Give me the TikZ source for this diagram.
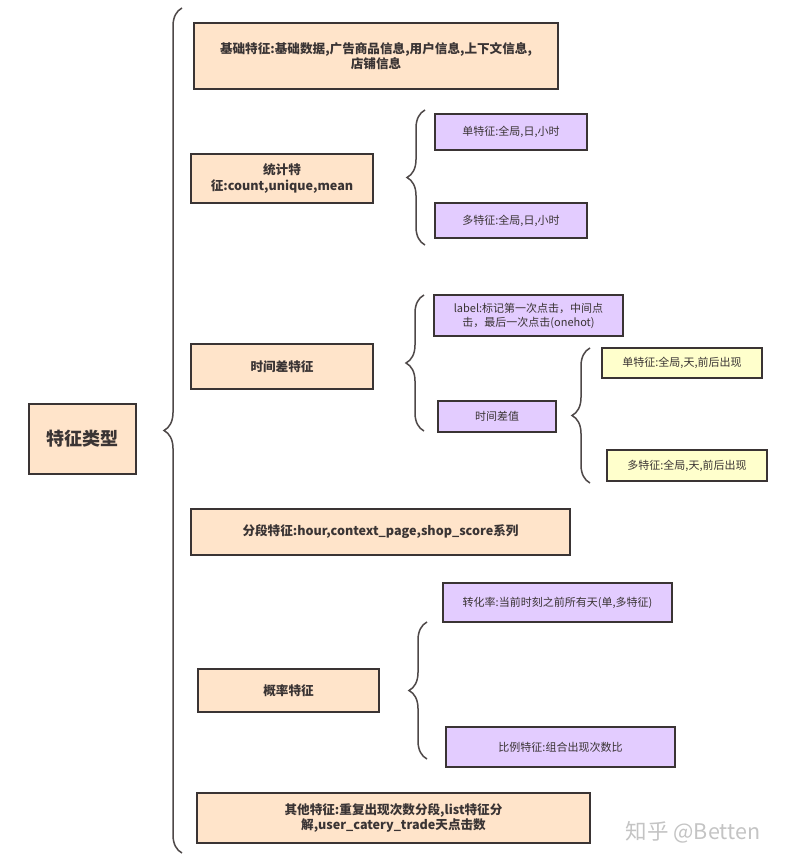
\documentclass[tikz,border=0pt]{standalone}
\usepackage{fontspec}
\setmainfont{Noto Sans CJK SC}
\usepackage{tikz}
\usetikzlibrary{positioning,decorations.pathreplacing}
\definecolor{ink}     {HTML}{3A3434}
\definecolor{peach}   {HTML}{FFE4CA}
\definecolor{lilac}   {HTML}{E3CCFF}
\definecolor{lemon}   {HTML}{FFFFCC}
\definecolor{softink} {HTML}{C4C4C4}
\tikzset{
  % --- boxes
  mod/.style  = {rectangle, draw=ink, line width=1.6pt, align=center,
                 inner sep=2pt, text=ink},
  core/.style = {mod, fill=peach, font=\bfseries\fontsize{12.6}{15.5}\selectfont},
  leaf/.style = {mod, fill=lilac, font=\fontsize{11}{14}\selectfont},
  sub/.style  = {mod, fill=lemon, font=\fontsize{11}{14}\selectfont},
  wm/.style   = {text=softink, font=\fontsize{21.5}{25}\selectfont},
  % --- braces
  brc/.style  = {draw=ink!90, line width=1.5pt, decorate,
                 decoration={brace, amplitude=18pt}},
}
\begin{document}
\begin{tikzpicture}[x=1pt,y=-1pt]
  \path[fill=white] (0,0) rectangle (793,867);
  \useasboundingbox (0,0) rectangle (793,867);
  % root
  \node[core, minimum width=107pt, minimum height=70pt,
        font=\bfseries\fontsize{18}{21}\selectfont] (root) at (82.5,439) {特征类型};
  % first level
  \node[core, minimum width=364pt, minimum height=66pt] (basic) at (376,56)
    {基础特征:基础数据,广告商品信息,用户信息,上下文信息,\\店铺信息};
  \node[core, minimum width=182pt, minimum height=49pt] (stat) at (282,178.5)
    {统计特\\征:count,unique,mean};
  \node[core, minimum width=182pt, minimum height=45pt] (tdiff) at (282,366.5) {时间差特征};
  \node[core, minimum width=379pt, minimum height=46pt] (seg) at (380.5,532)
    {分段特征:hour,context\_page,shop\_score系列};
  \node[core, minimum width=181pt, minimum height=43pt] (prob) at (288.5,690.5) {概率特征};
  \node[core, minimum width=393pt, minimum height=50pt] (other) at (393.5,818)
    {其他特征:重复出现次数分段,list特征分\\解,user\_catery\_trade天点击数};
  % second level
  \node[leaf, minimum width=152pt, minimum height=36pt] (statone) at (511,132) {单特征:全局,日,小时};
  \node[leaf, minimum width=152pt, minimum height=35pt] (statmany) at (511,220.5) {多特征:全局,日,小时};
  \node[leaf, minimum width=189pt, minimum height=41pt] (click) at (528.5,315.5)
    {label:标记第一次点击，中间点\\击，最后一次点击(onehot)};
  \node[leaf, minimum width=118pt, minimum height=31pt] (dval) at (497,416.5) {时间差值};
  \node[leaf, minimum width=229pt, minimum height=39pt] (conv) at (557.5,602.5)
    {转化率:当前时刻之前所有天(单,多特征)};
  \node[leaf, minimum width=229pt, minimum height=40pt] (ratio) at (560.5,747)
    {比例特征:组合出现次数比};
  % third level
  \node[sub, minimum width=160pt, minimum height=30pt] (dvone) at (682,363) {单特征:全局,天,前后出现};
  \node[sub, minimum width=160pt, minimum height=31pt] (dvmany) at (687,465.5) {多特征:全局,天,前后出现};
  % brace ends
  \coordinate (b0a) at (182,853); \coordinate (b0b) at (182,8);
  \coordinate (b1a) at (425,245); \coordinate (b1b) at (425,110);
  \coordinate (b2a) at (424,431); \coordinate (b2b) at (424,295);
  \coordinate (b3a) at (590,483); \coordinate (b3b) at (590,348);
  \coordinate (b4a) at (427,759); \coordinate (b4b) at (427,622);
  \foreach \a/\b in {b0a/b0b, b1a/b1b, b2a/b2b, b3a/b3b, b4a/b4b}
    \draw[brc] (\a) -- (\b);
  % watermark
  \node[wm] (zh) at (693,832) {知乎 @Betten};
\end{tikzpicture}
\end{document}
